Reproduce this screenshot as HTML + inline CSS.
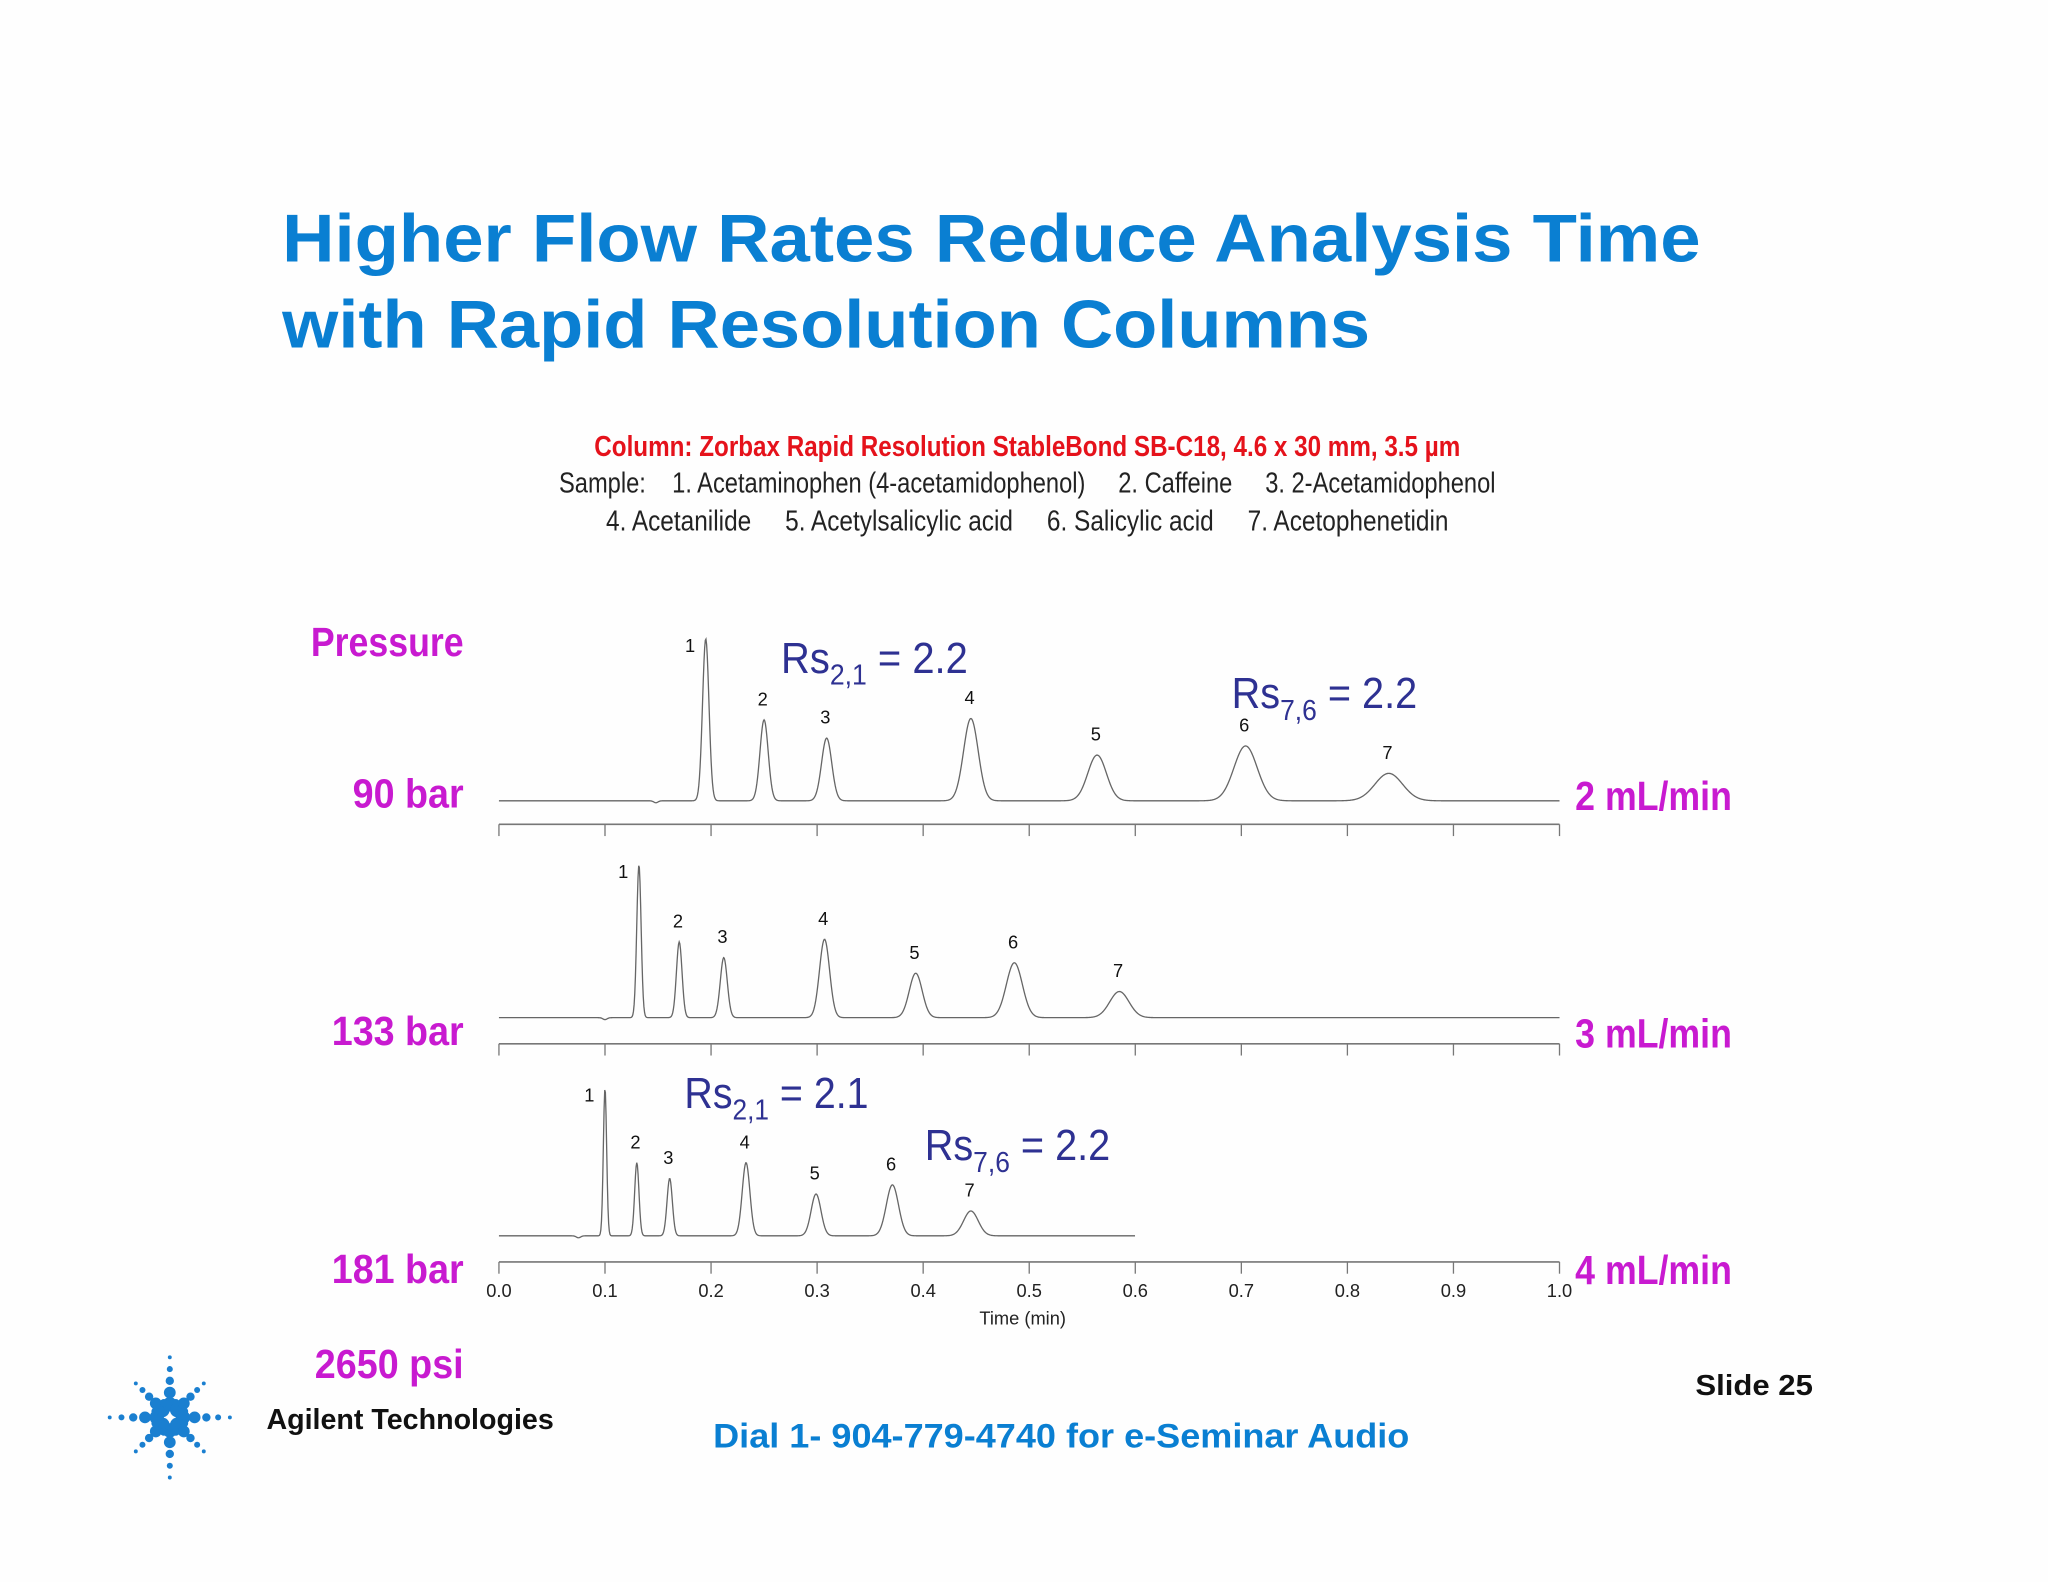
<!DOCTYPE html>
<html><head><meta charset="utf-8"><style>
html,body{margin:0;padding:0;background:#fff;}
svg{display:block;}
text{white-space:pre;}
</style></head><body>
<svg id="slide" width="2048" height="1582" viewBox="0 0 1568 1211" preserveAspectRatio="none" xmlns="http://www.w3.org/2000/svg" xml:space="preserve">
<rect width="1568" height="1211" fill="#fefefe"/>
<g font-family="Liberation Sans, sans-serif" font-weight="bold" font-size="52" fill="#0a7fd2">
<text x="216" y="200" textLength="1086" lengthAdjust="spacingAndGlyphs">Higher Flow Rates Reduce Analysis Time</text>
<text x="216" y="266" textLength="833" lengthAdjust="spacingAndGlyphs">with Rapid Resolution Columns</text>
</g>
<g font-family="Liberation Sans, sans-serif" font-size="22">
<text x="455" y="349" fill="#e5121b" font-weight="bold" textLength="663" lengthAdjust="spacingAndGlyphs">Column: Zorbax Rapid Resolution StableBond SB-C18, 4.6 x 30 mm, 3.5 µm</text>
<text x="428" y="377" fill="#222" textLength="717" lengthAdjust="spacingAndGlyphs">Sample:    1. Acetaminophen (4-acetamidophenol)     2. Caffeine     3. 2-Acetamidophenol</text>
<text x="464" y="406" fill="#222" textLength="645" lengthAdjust="spacingAndGlyphs">4. Acetanilide     5. Acetylsalicylic acid     6. Salicylic acid     7. Acetophenetidin</text>
</g>
<g font-family="Liberation Sans, sans-serif" font-size="31" fill="#c81ad0" font-weight="bold">
<text x="355" y="502" text-anchor="end" textLength="117" lengthAdjust="spacingAndGlyphs">Pressure</text>
<text x="355" y="618" text-anchor="end" textLength="85" lengthAdjust="spacingAndGlyphs">90 bar</text>
<text x="355" y="800" text-anchor="end" textLength="101" lengthAdjust="spacingAndGlyphs">133 bar</text>
<text x="355" y="982" text-anchor="end" textLength="101" lengthAdjust="spacingAndGlyphs">181 bar</text>
<text x="355" y="1055" text-anchor="end" textLength="114" lengthAdjust="spacingAndGlyphs">2650 psi</text>
<text x="1206" y="620" textLength="120" lengthAdjust="spacingAndGlyphs">2 mL/min</text>
<text x="1206" y="802" textLength="120" lengthAdjust="spacingAndGlyphs">3 mL/min</text>
<text x="1206" y="983" textLength="120" lengthAdjust="spacingAndGlyphs">4 mL/min</text>
</g>
<g id="charts"></g>
<g font-family="Liberation Sans, sans-serif" font-size="33" fill="#2e3192">
<text x="598" y="515" textLength="143" lengthAdjust="spacingAndGlyphs">Rs<tspan font-size="22" dy="9">2,1</tspan><tspan dy="-9"> = 2.2</tspan></text>
<text x="943" y="542" textLength="142" lengthAdjust="spacingAndGlyphs">Rs<tspan font-size="22" dy="9">7,6</tspan><tspan dy="-9"> = 2.2</tspan></text>
<text x="524" y="848" textLength="141" lengthAdjust="spacingAndGlyphs">Rs<tspan font-size="22" dy="9">2,1</tspan><tspan dy="-9"> = 2.1</tspan></text>
<text x="708" y="888" textLength="142" lengthAdjust="spacingAndGlyphs">Rs<tspan font-size="22" dy="9">7,6</tspan><tspan dy="-9"> = 2.2</tspan></text>
</g>
<text x="783" y="1014" text-anchor="middle" font-family="Liberation Sans, sans-serif" font-size="14" fill="#222">Time (min)</text>
<g id="logo"></g>
<text x="204" y="1094" font-family="Liberation Sans, sans-serif" font-weight="bold" font-size="22" fill="#111" textLength="220" lengthAdjust="spacingAndGlyphs">Agilent Technologies</text>
<text x="546" y="1108" font-family="Liberation Sans, sans-serif" font-weight="bold" font-size="26" fill="#0a7fd2" textLength="533" lengthAdjust="spacingAndGlyphs">Dial 1- 904-779-4740 for e-Seminar Audio</text>
<text x="1298" y="1068" font-family="Liberation Sans, sans-serif" font-weight="bold" font-size="22" fill="#111" textLength="90" lengthAdjust="spacingAndGlyphs">Slide 25</text>
</svg>
<script>
const tickLabels = ["0.0","0.1","0.2","0.3","0.4","0.5","0.6","0.7","0.8","0.9","1.0"];
const peakLabels = ["1","2","3","4","5","6","7"];
const times2mL = [0.195,0.250,0.309,0.445,0.564,0.704,0.839];
const heights2mL = [124,62,48,63,35,42,21];
const times3mL = [0.132,0.170,0.212,0.307,0.393,0.486,0.585];
const heights3mL = [117,58,46,60,34,42,20];
const times4mL = [0.100,0.130,0.161,0.233,0.299,0.371,0.445];
const heights4mL = [113,56,44,56,32,39,19];
const dipTimes = [0.148,0.100,0.075];
const runEnds = [1.0,1.0,0.6];

const NS="http://www.w3.org/2000/svg";
const X0=382, X1=1194;
function xs(t){return X0+(X1-X0)*t;}
function mk(tag,attrs,parent){const e=document.createElementNS(NS,tag);for(const k in attrs)e.setAttribute(k,attrs[k]);parent.appendChild(e);return e;}
const g=document.getElementById('charts');
const charts=[
 {times:times2mL,heights:heights2mL,base:613,axis:631,name:'2ml',labels:false},
 {times:times3mL,heights:heights3mL,base:779,axis:799,name:'3ml',labels:false},
 {times:times4mL,heights:heights4mL,base:946,axis:966,name:'4ml',labels:true}
];
charts.forEach((c,ci)=>{
  const grp=mk('g',{},g);
  
  
  function ys(v){return c.base - v;}
  let d='';
  for(let px=X0;px<=xs(runEnds[ci]);px+=0.5){
    const t=(px-X0)/(X1-X0);
    let v=0;
    c.times.forEach((tp,i)=>{const s=0.0155*tp;v+=c.heights[i]*Math.exp(-0.5*Math.pow((t-tp)/s,2));});
    v-=1.5*Math.exp(-0.5*Math.pow((t-dipTimes[ci])/0.002,2));
    d+=(d?'L':'M')+px.toFixed(1)+' '+ys(v).toFixed(2);
  }
  const line=mk('path',{d:d,fill:'none',stroke:'#666','stroke-width':1},grp);
  
  
  c.times.forEach((tp,i)=>{
    const lx = i===0 ? xs(tp)-12 : xs(tp)-1;
    const ly = i===0 ? ys(c.heights[i])+10 : ys(c.heights[i])-11;
    const lb=mk('text',{x:lx,y:ly,'text-anchor':'middle','font-family':'Liberation Sans, sans-serif','font-size':14,fill:'#111'},grp);
    lb.textContent=peakLabels[i];
    
    
  });
  const ax=mk('line',{x1:X0,x2:X1,y1:c.axis,y2:c.axis,stroke:'#777','stroke-width':1.2},grp);
  
  
  tickLabels.forEach((lab,i)=>{
    const t=parseFloat(lab);
    const tk=mk('line',{x1:xs(t),x2:xs(t),y1:c.axis,y2:c.axis+9,stroke:'#777','stroke-width':1},grp);
    
    
    if(c.labels){
      const tl=mk('text',{x:xs(t),y:c.axis+27,'text-anchor':'middle','font-family':'Liberation Sans, sans-serif','font-size':14,fill:'#222'},grp);
      tl.textContent=lab;
      
      
    }
  });
});
const lg=document.getElementById('logo');
const cx=130, cy=1085;
for(let a=0;a<8;a++){
  const ang=a*Math.PI/4;
  const len=(a%2===0)?1:0.8;
  [[10,5.5],[19,4.5],[28,3.2],[37,2.3],[46,1.5]].forEach(([r,s])=>{
    const d=mk('circle',{cx:cx+Math.cos(ang)*r*len,cy:cy+Math.sin(ang)*r*len,r:s,fill:'#1a7fd0'},lg);
    
    
  });
}
for(let a=0;a<8;a++){
  const ang=a*Math.PI/4+Math.PI/8;
  const d=mk('circle',{cx:cx+Math.cos(ang)*12,cy:cy+Math.sin(ang)*12,r:3,fill:'#1a7fd0'},lg);
  
  
}
</script>
</body></html>
